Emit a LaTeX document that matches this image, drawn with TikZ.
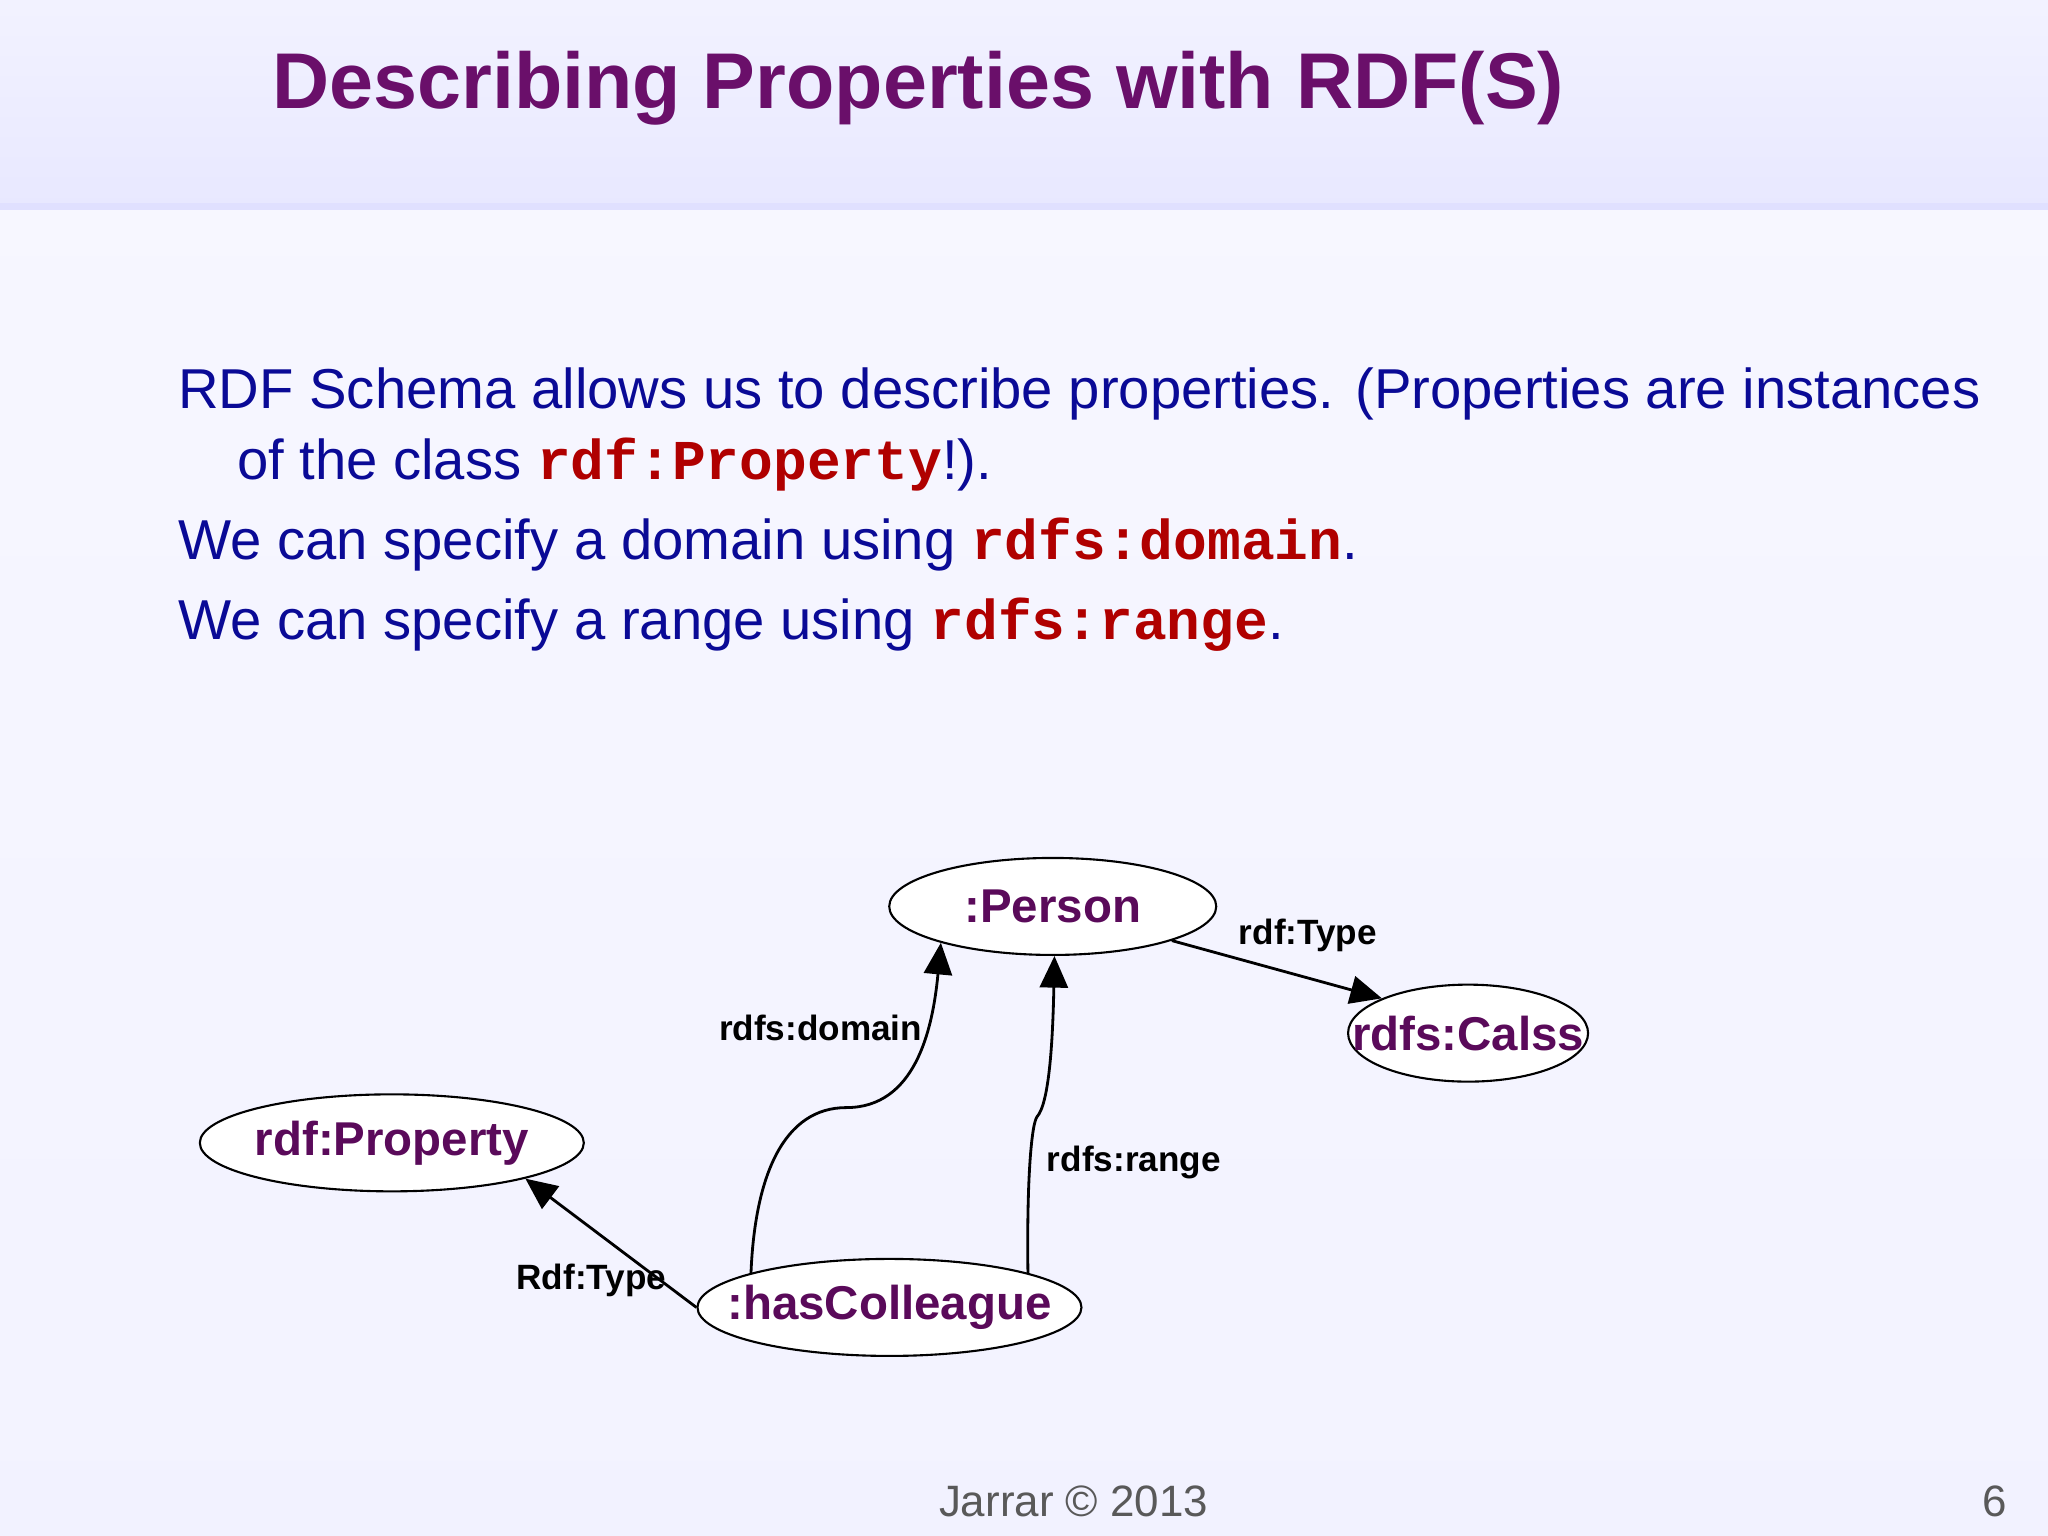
\documentclass[tikz,border=0pt]{standalone}
\usepackage{fontspec}
\setmainfont{Liberation Sans}
\setmonofont{Liberation Mono}
\usetikzlibrary{shapes.geometric,arrows.meta}
\definecolor{ttl}{HTML}{6A0F6A}
\definecolor{bdy}{HTML}{0A0A96}
\definecolor{cod}{HTML}{B00000}
\definecolor{ndt}{HTML}{5A0A5A}
\tikzset{
  ell/.style={ellipse,draw,semithick,fill=white,inner sep=0pt},
  ntx/.style={font=\fontsize{13.5}{16}\selectfont\bfseries,text=ndt,inner sep=0pt},
  lbl/.style={font=\fontsize{10}{12}\selectfont\bfseries,inner sep=0pt},
  arr/.style={thick,-{Triangle[length=9pt,width=8pt]}},
  bt/.style={anchor=base west,text=bdy,font=\fontsize{16}{19}\selectfont,inner sep=0pt}
}
\newcommand{\cd}[1]{{\ttfamily\bfseries\color{cod}#1}}
\begin{document}
\begin{tikzpicture}[x=0.013061cm,y=-0.013061cm]
\useasboundingbox (0,0) rectangle (1568,1176);
\fill[top color=blue!3,bottom color=blue!5] (0,0) rectangle (1568,1176);
\fill[top color=blue!5,bottom color=blue!9] (0,0) rectangle (1568,158);
\draw[blue!12,line width=2pt] (0,158) -- (1568,158);
\node[anchor=base west,text=ttl,font=\fontsize{22.5}{26}\selectfont\bfseries,inner sep=0pt] (title) at (208,83) {Describing Properties with RDF(S)};
\node[bt] (l1) at (136,313) {RDF Schema allows us to describe properties. (Properties are instances};
\node[bt] (l2) at (181,367) {of the class \cd{rdf:Property}!).};
\node[bt] (l3) at (136,428) {We can specify a domain using \cd{rdfs:domain}.};
\node[bt] (l4) at (136,490) {We can specify a range using \cd{rdfs:range}.};

\node[ell,minimum width=3.27cm,minimum height=0.97cm] (person) at (806,694) {};
\node[ell,minimum width=2.40cm,minimum height=0.97cm] (class) at (1124,791) {};
\node[ell,minimum width=3.84cm,minimum height=0.97cm] (prop) at (300,875) {};
\node[ell,minimum width=3.84cm,minimum height=0.97cm] (hc) at (681,1001) {};
\node[ntx] (tperson) at (person) {:Person};
\node[ntx] (tclass) at (class) {rdfs:Calss};
\node[ntx] (tprop) at (prop) {rdf:Property};
\node[ntx] (thc) at (hc) {:hasColleague};

\draw[arr] (person.-16) -- (class.158);
\draw[arr] (hc.180) -- (prop.-15);
\draw[arr] (hc.166) .. controls (578,900) and (600,848) .. (648,848) .. controls (700,848) and (714,790) .. (person.-162);
\draw[arr] (hc.14) .. controls (786,900) and (790,860) .. (794,855) .. controls (803,845) and (806,800) .. (person.-88);

\node[lbl,anchor=base west] (t1) at (948,723) {rdf:Type};
\node[lbl,anchor=base west] (t2) at (550,797) {rdfs:domain};
\node[lbl,anchor=base west] (t3) at (801,897) {rdfs:range};
\node[lbl,anchor=base west] (t4) at (395,987) {Rdf:Type};

\node[anchor=base,text=black!65,font=\fontsize{12.5}{14}\selectfont] (foot) at (822,1161) {Jarrar © 2013};
\node[anchor=base,text=black!65,font=\fontsize{12.5}{14}\selectfont] (pg) at (1527,1161) {6};
\end{tikzpicture}
\end{document}
